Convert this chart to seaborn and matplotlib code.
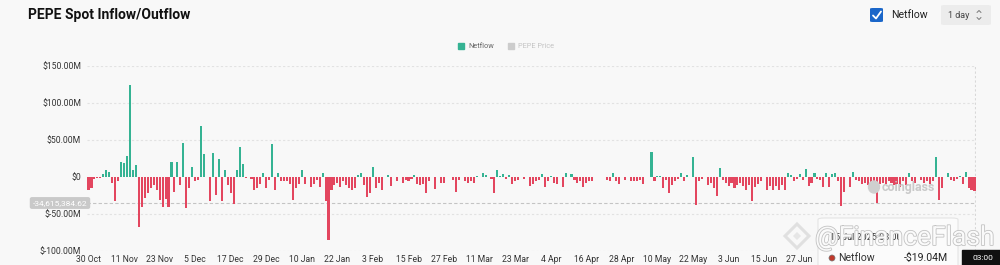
import numpy as np
import pandas as pd
import matplotlib
matplotlib.use("Agg")
import matplotlib.pyplot as plt
import seaborn as sns
from matplotlib.patches import FancyBboxPatch, Rectangle, Ellipse, Polygon
from matplotlib.lines import Line2D
import matplotlib.patheffects as pe

# ---------------- data (millions USD, daily netflow) ----------------
netflow_part1 = [
    -17, -15, -3, -2, -1, 4, 10, 7, -8, -32, -5, 20, 19, 28, 124, 10, 16,
    -67, -41, -29, -22, -15, -11, -18, -31, -41, -30, -41, 20, -20, 20, -11,
    46, -42, -15, 13, -6, -4, 69, 31, 0.6, -33, 32, -24, 25, -32, 10, -11,
    -22, -36, 10, 41, 18, -2, 0.5, -3, -18, -15, -9, 5, -15, -4, 45, -18, 5,
    -6, -6, -5, -10, -31, -15, -9, 10, -10, 0.5, -13, -9, -4, -14, 5, -33,
    -85, -18, -11, -8,
]
netflow_part2 = [
    -13, -6, -11, -15, -18, -15, 3, 5, -11, -27, -22, 13, -15, -8, -17, 0.6,
    3, -12, -0.6, -6, 0.6, -8, -4, -6, -3, 3, -10, -11, -10, -22, -6, -0.6,
    -16, 0.6, -8, -8, -0.6, 0.6, -4, -20, -4, -0.6, -6, -8, -5, -8, 1, 0.6,
    6, 3, -0.6, -3, -21, 10, 0.8, 4, -3, 3, -10, -6, -4, 0.6, -3, -0.6, -12,
    -10, -6, -4, 4, -14, -6, 1, -8, -9, 0.6, -13, 6, 0.6, 4, -4, -8, -6, -13,
    -8, -5, -6, 0.6, -0.6, 0.6, -0.6, -4, -6, 5, -6, -10, -0.6, -4, 0.6, -6,
    -5, -6, -4, -10, 0.6, -0.6, 34, -6, 1, 1, -15, -4, -22,
]
netflow_part3 = [
    -11, -5, -3, 6, -6, 3, 0.6, 27, -38, -6, -3, -0.6, -11, -8, -15, -26,
    12, -4, -8, -12, -8, -15, -11, -8, -12, -18, -11, -33, -13, -9, -5, -0.6,
    -18, -12, -18, -12, -18, -11, -18, 6, 3, -6, -3, 4, -4, 11, -12, -8, 6,
    -3, -4, -13, 6, -13, 4, 6, -5, -39, -20, 0.6, -14, 7, -4, -6, -10, -8,
    -11, -9, -12, -35, -10, -8, -10, -6, -8, -11, -10, -13, -6, -11, 6, -6,
    -8, 0.6, -4, -8, -6, -10, -6, 27, -31, -15, -0.6, 5, -4, -5, -3, 1, -10,
    7, -15, -18, -19.04,
]
netflow_m = netflow_part1 + netflow_part2 + netflow_part3
start_date = "2024-10-30"
tick_every_days = 12
visible_ticks = 21  # later tick labels sit under the tooltip
y_ticks = [-100, -50, 0, 50, 100, 150]
y_tick_labels = ["$-100.00M", "$-50.00M", "$0", "$50.00M", "$100.00M", "$150.00M"]
crosshair_value_m = -34.61538462
crosshair_label = "-34,615,384.62"
tooltip_date = "15 Jul 2025 03:00"
tooltip_series = "Netflow"
tooltip_value = "-$19.04M"
legend_labels = ["Netflow", "PEPE Price"]

# ---------------- styling ----------------
BG = "#f8f8f8"
GREEN = "#35b393"
RED = "#e3465f"
W, H = 1000, 265

sns.set_theme(style="white")
plt.rcParams["font.family"] = ["Roboto", "DejaVu Sans"]

n = len(netflow_m)
dates = pd.date_range(start_date, periods=n, freq="D")
vals = np.array(netflow_m, dtype=float)
df = pd.DataFrame({
    "day": np.arange(n),
    "netflow": vals,
    "dir": np.where(vals >= 0, "in", "out"),
})

fig = plt.figure(figsize=(W / 100, H / 100), dpi=100, facecolor=BG)

def fx(px):
    return px / W

def fy(py):
    return 1 - py / H

first_px, last_px = 88.5, 974.5
ppd = (last_px - first_px) / (n - 1)
x0, x1 = -0.6, n - 0.4
left = first_px - 0.6 * ppd
width_px = (x1 - x0) * ppd
top_px, bot_px = 66, 251
ax = fig.add_axes([fx(left), fy(bot_px), width_px / W, (bot_px - top_px) / H])
ax.set_facecolor(BG)

sns.barplot(data=df, x="day", y="netflow", hue="dir",
            palette={"in": GREEN, "out": RED}, native_scale=True,
            width=0.7, dodge=False, legend=False, saturation=1,
            linewidth=0, ax=ax, zorder=3)

ax.set_xlim(x0, x1)
ax.set_ylim(-100, 150)
for s in ax.spines.values():
    s.set_visible(False)

for yv in [150, 100, 50, -50, -100]:
    ax.axhline(yv, color="#e2e2e2", lw=0.8, ls=(0, (2, 2)), zorder=1)

ax.set_yticks(y_ticks)
ax.set_yticklabels(y_tick_labels)
tick_pos = list(range(0, n, tick_every_days))[:visible_ticks]
ax.set_xticks(tick_pos)
ax.set_xticklabels([f"{dates[i].day} {dates[i]:%b}" for i in tick_pos])
ax.tick_params(axis="both", length=0, labelsize=6.2, colors="#333333")
ax.tick_params(axis="y", pad=4)
ax.tick_params(axis="x", pad=3)
ax.set_xlabel("")
ax.set_ylabel("")

# crosshair
ax.axhline(crosshair_value_m, color="#c4c4c4", lw=0.8, ls=(0, (3, 2)), zorder=2)
ax.axvline(n - 1, color="#d8d8d8", lw=0.8, ls=(0, (2, 2)), zorder=2)

# watermark coinglass
fig.patches.append(Ellipse((fx(874), fy(187)), fx(11), 12 / H,
                           transform=fig.transFigure, color="#cfcfcf", zorder=4))
fig.text(fx(882), fy(188), "coinglass", fontsize=9, fontweight="bold",
         color="#c9c9c9", va="center", ha="left", zorder=4)

# crosshair y label
fig.text(fx(60), fy(203), crosshair_label, fontsize=6, color="white",
         ha="center", va="center",
         bbox=dict(boxstyle="round,pad=0.35,rounding_size=0.25",
                   fc="#c9c9c9", ec="none"), zorder=5)

# title
fig.text(fx(28), fy(15), "PEPE Spot Inflow/Outflow", fontsize=10,
         fontweight="bold", color="#111111", va="center", ha="left")

# checkbox + Netflow
fig.patches.append(FancyBboxPatch((fx(870), fy(22)), fx(13), 14 / H,
                                  boxstyle="round,pad=0,rounding_size=0.003",
                                  transform=fig.transFigure, fc="#1a66c9",
                                  ec="none"))
fig.lines.append(Line2D([fx(873), fx(876), fx(881)], [fy(15.5), fy(18.5), fy(11.5)],
                        transform=fig.transFigure, color="white", lw=1.3))
fig.text(fx(891), fy(15), "Netflow", fontsize=7.6, color="#222222",
         va="center", ha="left")
fig.patches.append(FancyBboxPatch((fx(941), fy(25)), fx(50), 20 / H,
                                  boxstyle="round,pad=0,rounding_size=0.004",
                                  transform=fig.transFigure, fc="#ececec",
                                  ec="none"))
fig.text(fx(948), fy(15), "1 day", fontsize=6.5, color="#444444",
         va="center", ha="left")
fig.lines.append(Line2D([fx(977), fx(979), fx(981)], [fy(12.5), fy(10.5), fy(12.5)],
                        transform=fig.transFigure, color="#777777", lw=0.7))
fig.lines.append(Line2D([fx(977), fx(979), fx(981)], [fy(17.5), fy(19.5), fy(17.5)],
                        transform=fig.transFigure, color="#777777", lw=0.7))

# legend
fig.patches.append(Rectangle((fx(458), fy(49)), fx(6), 6 / H,
                             transform=fig.transFigure, color=GREEN))
fig.text(fx(468), fy(46), legend_labels[0], fontsize=5.3, color="#666666",
         va="center", ha="left")
fig.patches.append(Rectangle((fx(508), fy(49)), fx(6), 6 / H,
                             transform=fig.transFigure, color="#cccccc"))
fig.text(fx(518), fy(46), legend_labels[1], fontsize=5.3, color="#c4c4c4",
         va="center", ha="left")

# tooltip
fig.patches.append(FancyBboxPatch((fx(818), fy(275)), fx(140), 57 / H,
                                  boxstyle="round,pad=0,rounding_size=0.006",
                                  transform=fig.transFigure, fc="#fbfbfb",
                                  ec="#e4e4e4", lw=0.8, zorder=6))
fig.text(fx(830), fy(238), tooltip_date, fontsize=6.5, color="#333333",
         va="center", ha="left", zorder=7)
fig.patches.append(Ellipse((fx(832), fy(258)), fx(6), 6 / H,
                           transform=fig.transFigure,
                           fc="#c0392b", ec="#777777", lw=0.5, zorder=7))
fig.text(fx(838), fy(258), tooltip_series, fontsize=7.6, color="#333333",
         va="center", ha="left", zorder=7)
fig.text(fx(948), fy(258), tooltip_value, fontsize=7.6, color="#222222",
         va="center", ha="right", zorder=7)

# x crosshair label
fig.patches.append(Rectangle((fx(962), fy(265)), fx(38), 15 / H,
                             transform=fig.transFigure, color="#111111", zorder=6))
fig.text(fx(983), fy(258), "03:00", fontsize=6, color="white",
         va="center", ha="center", zorder=7)

# FinanceFlash watermark
cx, cy, r = 797, 236, 12
fig.patches.append(Polygon([(fx(cx), fy(cy - r)), (fx(cx + r), fy(cy)),
                            (fx(cx), fy(cy + r)), (fx(cx - r), fy(cy))],
                           closed=True, transform=fig.transFigure, fc="none",
                           ec="#e0e0e0", lw=2.2, zorder=8))
fig.patches.append(Polygon([(fx(cx), fy(cy - 4)), (fx(cx + 4), fy(cy)),
                            (fx(cx), fy(cy + 4)), (fx(cx - 4), fy(cy))],
                           closed=True, transform=fig.transFigure,
                           fc="#e6e6e6", ec="none", zorder=8))
fig.text(fx(815), fy(238), "@FinanceFlash", fontsize=19, color="white",
         va="center", ha="left", zorder=8, alpha=0.9,
         path_effects=[pe.withStroke(linewidth=1.2, foreground="#bdbdbd")])

fig.savefig("out.png", dpi=100, facecolor=BG)
